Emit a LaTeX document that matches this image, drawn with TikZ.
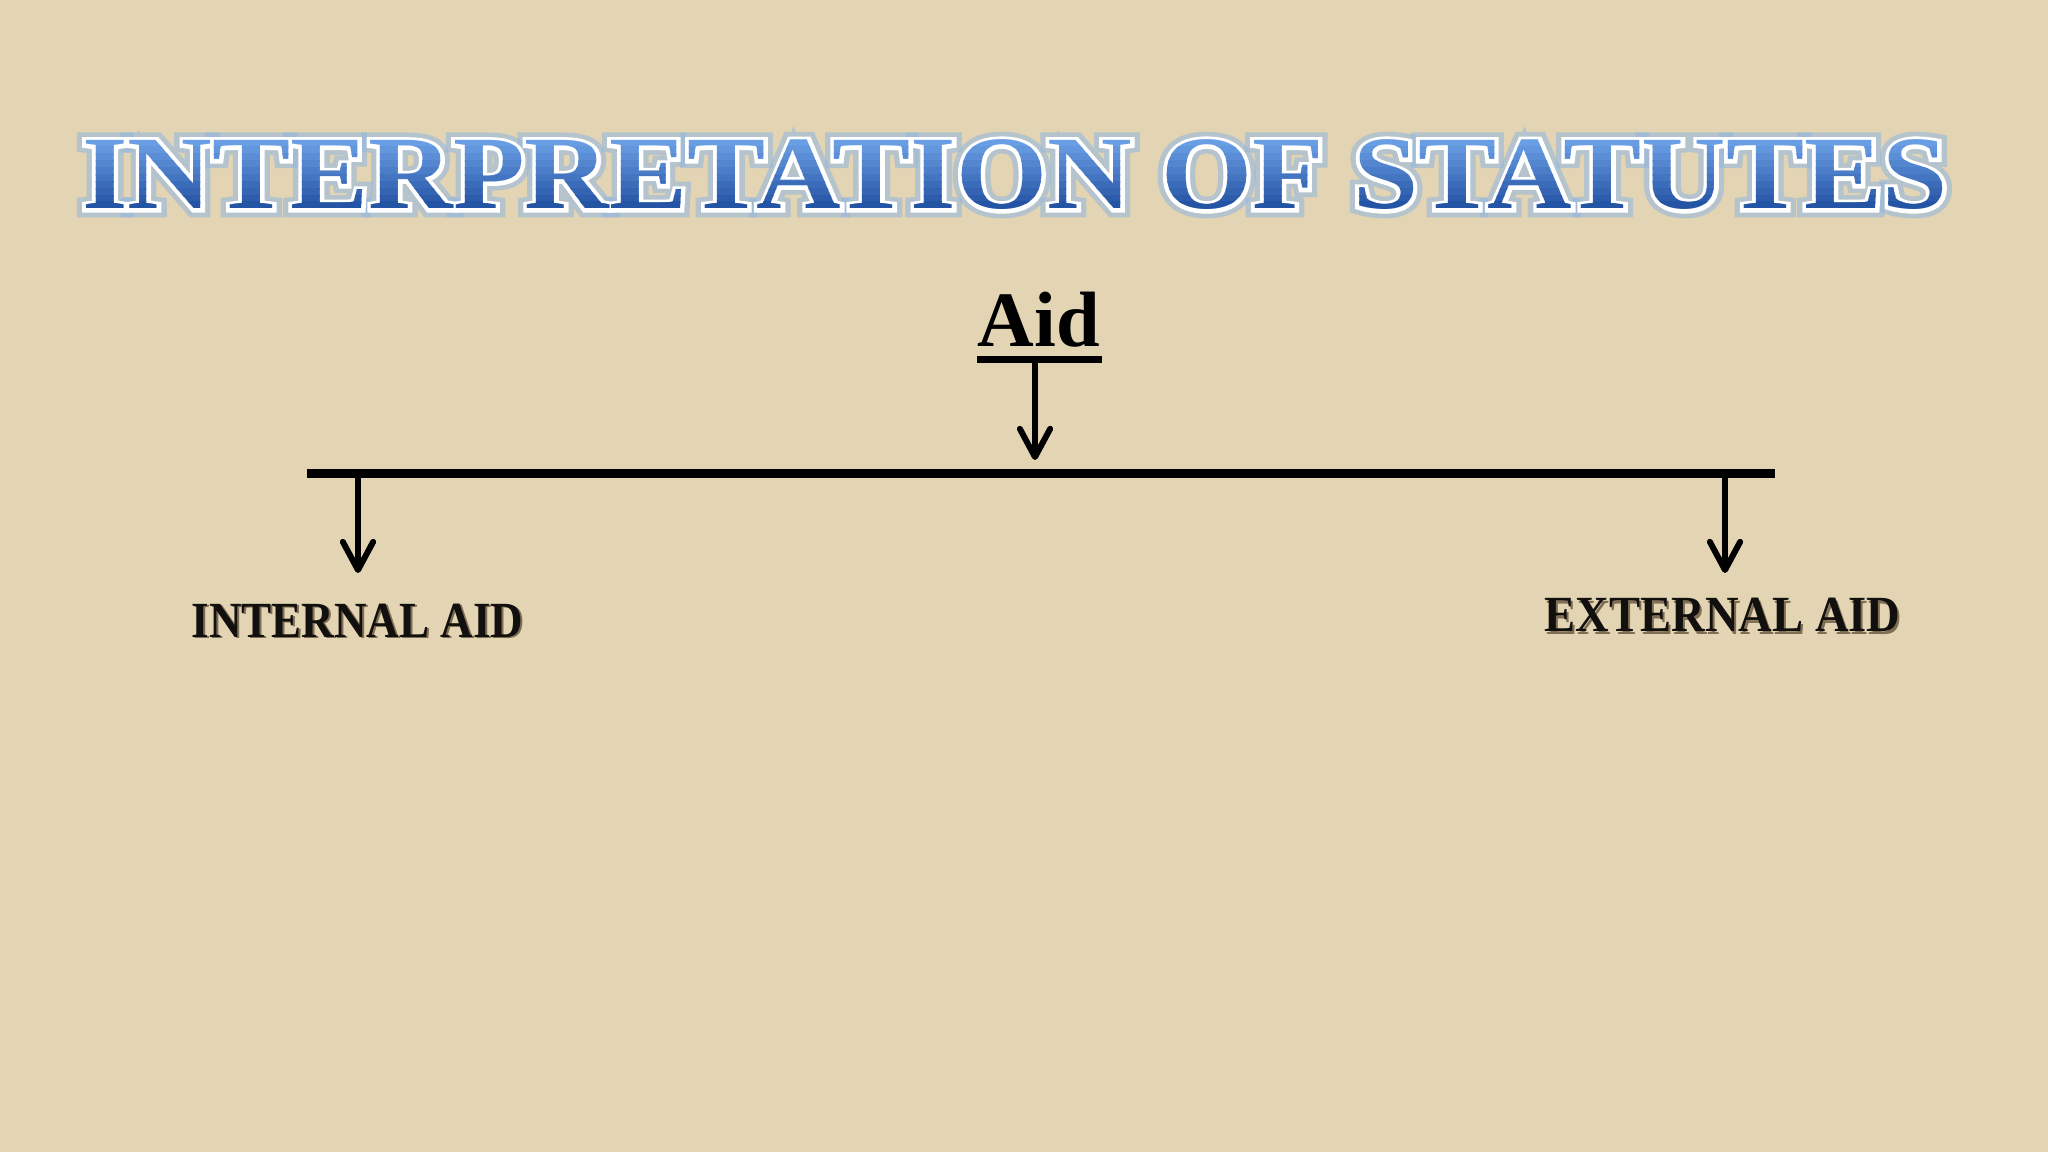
\documentclass[tikz,border=0pt]{standalone}
\usepackage{fontspec}
\setmainfont{Liberation Serif}
\usetikzlibrary{arrows.meta}
\definecolor{bgcol}{RGB}{227,213,179}
\definecolor{tblueL}{RGB}{106,158,228}
\definecolor{tblueD}{RGB}{36,84,164}
\definecolor{tglow}{RGB}{150,184,222}
\definecolor{shadowcol}{RGB}{128,110,84}
\definecolor{inkcol}{RGB}{18,16,14}
\font\tglowfont="Liberation Serif Bold:embolden=16" at 29.6pt
\font\twhitefont="Liberation Serif Bold:embolden=7" at 29.6pt
\font\tmainfont="Liberation Serif Bold" at 29.6pt
\newcommand{\titlewith}[1]{\scalebox{1.125}[1]{#1INTERPRETATION OF STATUTES}}
\tikzset{
  bar/.style={line width=2.6pt,line cap=butt},
  link/.style={line width=1.7pt,-{Straight Barb[length=8pt,width=8.6pt,line cap=round,line join=round]}},
  aidlbl/.style={inner sep=0pt,anchor=base,font=\fontsize{22.3}{24}\selectfont\bfseries},
  branch/.style={inner sep=0pt,anchor=base,text=inkcol},
  branchshadow/.style={inner sep=0pt,anchor=base,text=shadowcol},
  tlayer/.style={inner sep=0pt,anchor=base}
}
\begin{document}
\begin{tikzpicture}[x=0.01cm,y=-0.01cm]
  \fill[bgcol] (0,0) rectangle (2048,1152);
  \useasboundingbox (0,0) rectangle (2048,1152);
  % title: glow, white outline, blue gradient fill
  \node[tlayer,text=tglow,opacity=0.6] (tglow) at (1015,209) {\titlewith{\tglowfont}};
  \node[tlayer,text=white] (twhite) at (1015,209) {\titlewith{\twhitefont}};
  \foreach \k [count=\i from 0] in {100,89,78,67,56,44,33,22,11,0} {
    \begin{scope}
      \ifnum\i=0 \clip (0,90) rectangle (2048,147.5);
      \else\ifnum\i=9 \clip (0,202) rectangle (2048,260);
      \else \clip (0,{140+\i*7-0.5}) rectangle (2048,{147+\i*7+0.5}); \fi\fi
      \node[tlayer,text=tblueL!\k!tblueD] (tb\i) at (1015,209) {\titlewith{\tmainfont}};
    \end{scope}
  }
  % Aid
  \node[aidlbl] (aid) at (1039,347) {Aid};
  \coordinate (ulL) at (977,359.5);
  \coordinate (ulR) at (1102,359.5);
  \draw[line width=2pt] (ulL) -- (ulR);
  \coordinate (aidtop) at (1035,362);
  \coordinate (aidtip) at (1035,460);
  \draw[link] (aidtop) -- (aidtip);
  % bar
  \coordinate (barL) at (307,473.5);
  \coordinate (barR) at (1775,473.5);
  \draw[bar] (barL) -- (barR);
  \coordinate (lTop) at (358,476);
  \coordinate (lTip) at (358,573);
  \coordinate (rTop) at (1725,476);
  \coordinate (rTip) at (1725,573);
  \draw[link] (lTop) -- (lTip);
  \draw[link] (rTop) -- (rTip);
  % branch labels
  \node[branchshadow] (intsh) at (359.5,639) {\scalebox{0.89}[1]{\fontsize{14.4}{16}\selectfont\bfseries INTERNAL AID}};
  \node[branch] (int) at (357.5,637) {\scalebox{0.89}[1]{\fontsize{14.4}{16}\selectfont\bfseries INTERNAL AID}};
  \node[branchshadow] (extsh) at (1724.5,634) {\scalebox{0.92}[1]{\fontsize{14.4}{16}\selectfont\bfseries EXTERNAL AID}};
  \node[branch] (ext) at (1722.5,632) {\scalebox{0.92}[1]{\fontsize{14.4}{16}\selectfont\bfseries EXTERNAL AID}};
\end{tikzpicture}
\end{document}
